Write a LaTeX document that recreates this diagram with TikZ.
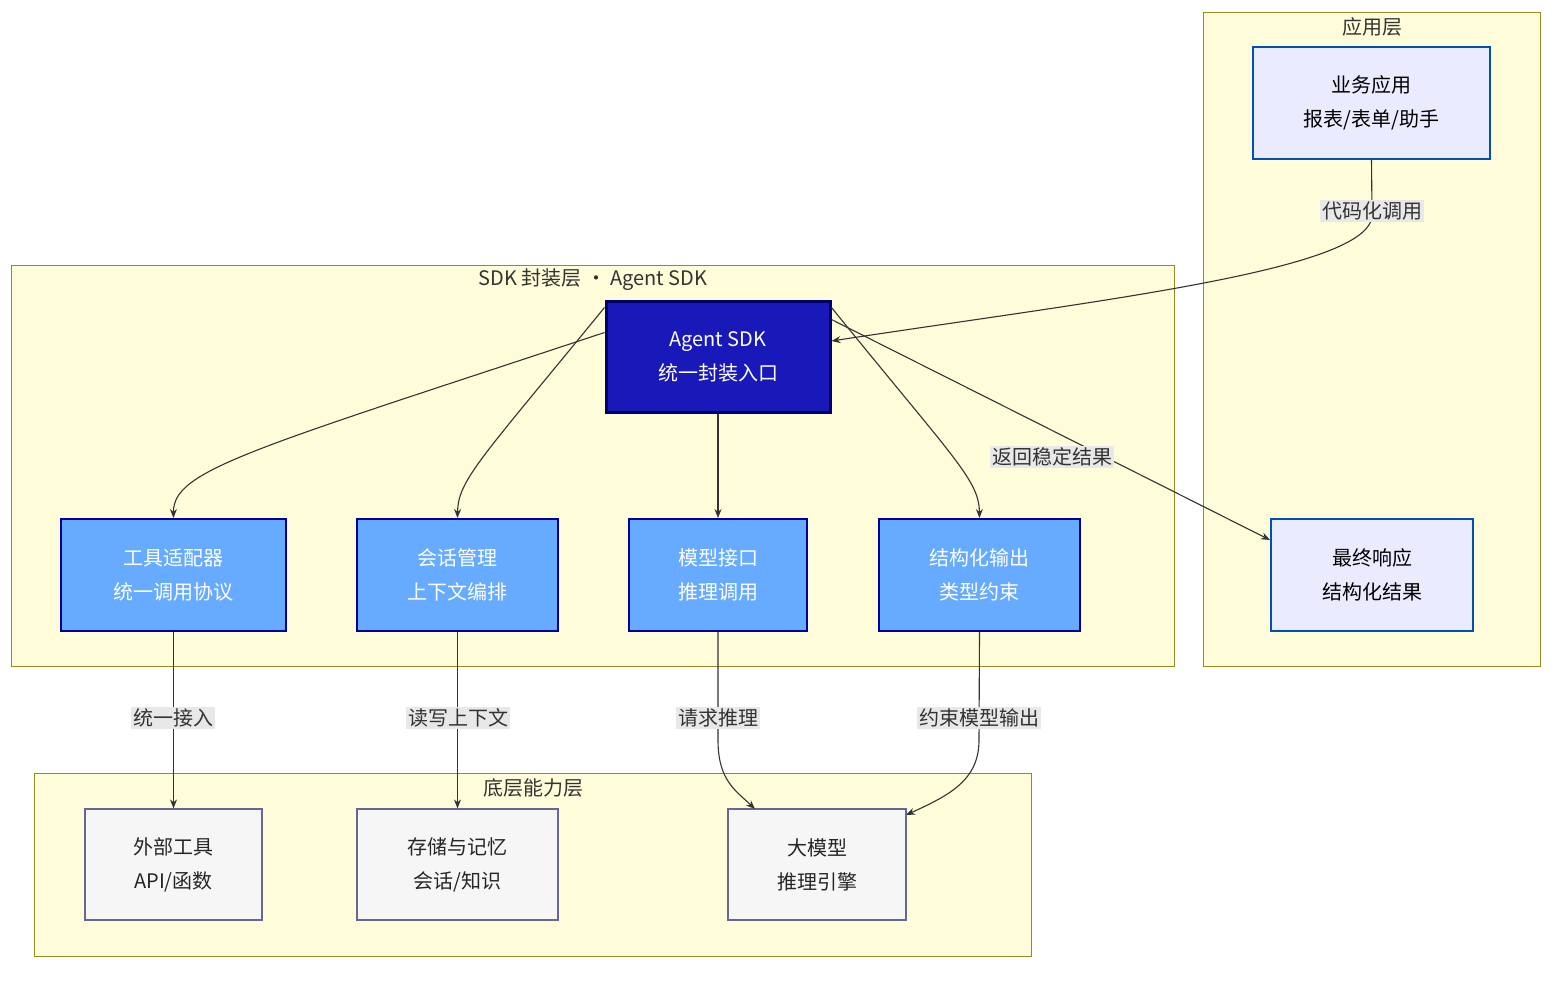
\documentclass[tikz,border=0pt]{standalone}
\usepackage{fontspec}
\usetikzlibrary{arrows.meta}
\setmainfont{Noto Sans CJK SC}
\begin{document}
\begin{tikzpicture}[x=1pt,y=-1pt,
  layer/.style={draw=olive!70!yellow!80!black,fill=yellow!15,line width=1pt},
  ttl/.style={font=\fontsize{20}{24}\selectfont,text=black!80},
  box/.style={rectangle,line width=2pt,align=center,font=\fontsize{20}{34}\selectfont,inner sep=0pt},
  appb/.style={box,draw=blue!55!cyan!70!black,fill=blue!8},
  sdkb/.style={box,draw=blue!60!black,fill=blue!55!cyan!60,text=white},
  mainb/.style={box,draw=blue!40!black,fill=blue!70!black!90,text=white,line width=3pt},
  lowb/.style={box,draw=gray!80!blue,fill=gray!7,line width=1.2pt,text=black!85},
  arr/.style={draw=black!80,line width=1.1pt,-{Stealth[length=9pt,width=7pt]}},
  lab/.style={fill=gray!18,inner sep=2pt,font=\fontsize{20}{24}\selectfont,text=black!80}]
\useasboundingbox (0,0) rectangle (1568,980);
\fill[white] (0,0) rectangle (1568,980);
% layers
\draw[layer] (1203,12) rectangle (1540,666);
\node[ttl] (t1) at (1372,27) {应用层};
\draw[layer] (11,265) rectangle (1174,666);
\node[ttl] (t2) at (593,280) {SDK 封装层 · Agent SDK};
\draw[layer] (34,773) rectangle (1031,956);
\node[ttl] (t3) at (533,788) {底层能力层};
% nodes
\node[appb,minimum width=237,minimum height=112] (biz) at (1371.5,103) {业务应用\\报表/表单/助手};
\node[appb,minimum width=202,minimum height=112] (res) at (1372,575) {最终响应\\结构化结果};
\node[mainb,minimum width=224,minimum height=111] (sdk) at (718,356.5) {Agent SDK\\统一封装入口};
\node[sdkb,minimum width=225,minimum height=112] (tool) at (173.5,575) {工具适配器\\统一调用协议};
\node[sdkb,minimum width=201,minimum height=112] (sess) at (457.5,575) {会话管理\\上下文编排};
\node[sdkb,minimum width=178,minimum height=112] (model) at (718,575) {模型接口\\推理调用};
\node[sdkb,minimum width=201,minimum height=112] (struct) at (979.5,575) {结构化输出\\类型约束};
\node[lowb,minimum width=177,minimum height=111] (ext) at (173.5,864.5) {外部工具\\API/函数};
\node[lowb,minimum width=201,minimum height=111] (store) at (457.5,864.5) {存储与记忆\\会话/知识};
\node[lowb,minimum width=178,minimum height=111] (llm) at (817,864.5) {大模型\\推理引擎};
% edges
\draw[arr] (biz.south) -- (1372,215) .. controls (1372,270) and (1100,300) .. (sdk.east |- 0,341);
\node[lab] (l1) at (1372,211) {代码化调用};
\draw[arr] ([yshift=24]sdk.west) .. controls (250,450) and (173,470) .. (tool.north);
\draw[arr] ([yshift=49]sdk.west) .. controls (480,460) and (458,480) .. (sess.north);
\draw[arr] (sdk.south) -- (model.north);
\draw[arr] ([yshift=49]sdk.east) .. controls (955,460) and (979,480) .. (struct.north);
\draw[arr] ([yshift=37]sdk.east) -- (res.west |- 0,540);
\node[lab] (l2) at (1052,457) {返回稳定结果};
\draw[arr] (tool.south) -- (ext.north);
\node[lab] (l3) at (173,718) {统一接入};
\draw[arr] (sess.south) -- (store.north);
\node[lab] (l4) at (458,718) {读写上下文};
\draw[arr] (model.south) -- (718,740) .. controls (718,780) and (735,790) .. (755,809);
\node[lab] (l5) at (718,718) {请求推理};
\draw[arr] (struct.south) -- (979,740) .. controls (979,780) and (950,795) .. (906,815);
\node[lab] (l6) at (979,718) {约束模型输出};
\end{tikzpicture}
\end{document}
